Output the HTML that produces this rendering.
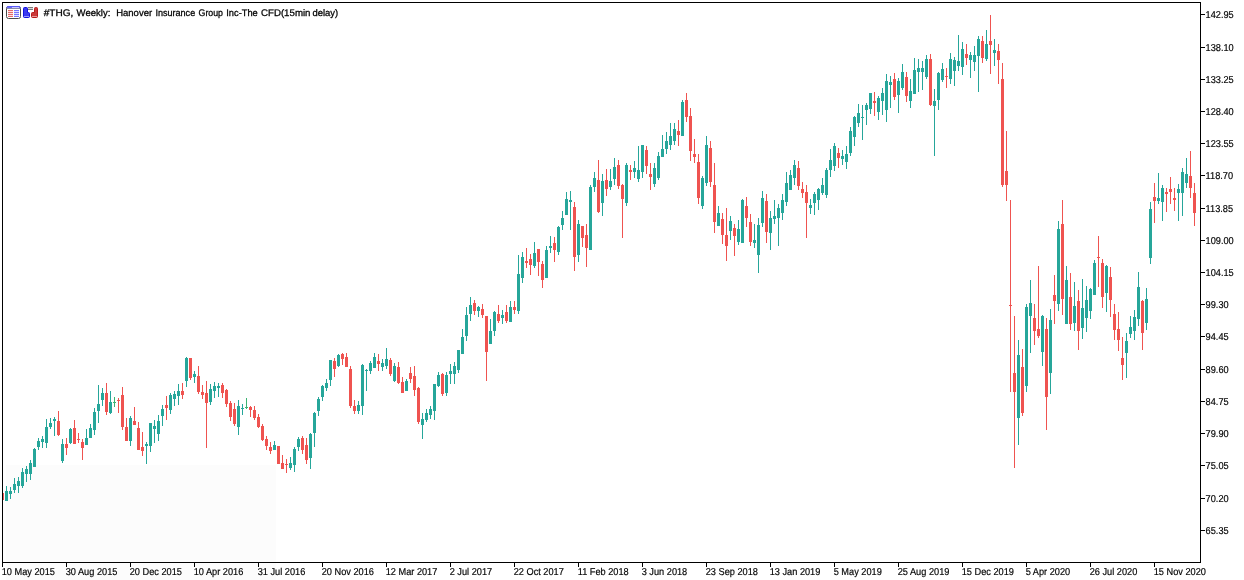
<!DOCTYPE html><html><head><meta charset="utf-8"><style>html,body{margin:0;padding:0;background:#fff;overflow:hidden}svg{display:block}text{font-family:"Liberation Sans",sans-serif;fill:#000;text-rendering:geometricPrecision}</style></head><body>
<svg width="1244" height="580" viewBox="0 0 1244 580">
<rect x="0" y="0" width="1244" height="580" fill="#fff"/>
<rect x="6" y="465" width="270" height="115" fill="#fcfcfc"/>
<path fill="#26a69a" shape-rendering="crispEdges" d="M6 486h1v15h-1zM5 491h3v10h-3zM10 487h1v12h-1zM9 491h3v3h-3zM14 478h1v15h-1zM13 484h3v6h-3zM18 477h1v16h-1zM17 481h3v5h-3zM22 468h1v20h-1zM21 472h3v14h-3zM26 466h1v16h-1zM25 469h3v5h-3zM30 460h1v20h-1zM29 463h3v11h-3zM34 448h1v19h-1zM33 449h3v18h-3zM38 438h1v12h-1zM37 441h3v6h-3zM42 436h1v12h-1zM41 439h3v3h-3zM46 419h1v29h-1zM45 427h3v16h-3zM50 418h1v11h-1zM49 423h3v4h-3zM54 417h1v19h-1zM53 419h3v2h-3zM62 439h1v24h-1zM61 444h3v17h-3zM70 428h1v16h-1zM69 429h3v14h-3zM86 429h1v16h-1zM85 438h3v7h-3zM90 424h1v14h-1zM89 428h3v10h-3zM94 408h1v27h-1zM93 412h3v18h-3zM98 385h1v38h-1zM97 404h3v7h-3zM102 388h1v18h-1zM101 393h3v7h-3zM110 391h1v23h-1zM109 402h3v11h-3zM130 416h1v30h-1zM129 418h3v23h-3zM146 442h1v22h-1zM145 444h3v2h-3zM150 423h1v29h-1zM149 423h3v23h-3zM154 420h1v23h-1zM153 426h3v3h-3zM158 415h1v26h-1zM157 421h3v13h-3zM162 405h1v21h-1zM161 409h3v7h-3zM170 393h1v21h-1zM169 395h3v15h-3zM174 391h1v15h-1zM173 394h3v5h-3zM178 384h1v21h-1zM177 391h3v5h-3zM186 357h1v30h-1zM185 358h3v23h-3zM194 371h1v12h-1zM193 374h3v3h-3zM210 384h1v21h-1zM209 389h3v13h-3zM214 382h1v16h-1zM213 386h3v5h-3zM218 383h1v14h-1zM217 386h3v2h-3zM238 400h1v35h-1zM237 406h3v21h-3zM242 404h1v11h-1zM241 408h3v1h-3zM274 441h1v9h-1zM273 445h3v5h-3zM290 457h1v13h-1zM289 463h3v5h-3zM294 447h1v25h-1zM293 449h3v16h-3zM298 437h1v14h-1zM297 439h3v8h-3zM310 433h1v36h-1zM309 434h3v24h-3zM314 412h1v35h-1zM313 413h3v20h-3zM318 397h1v19h-1zM317 399h3v12h-3zM322 385h1v16h-1zM321 386h3v11h-3zM326 379h1v12h-1zM325 383h3v5h-3zM330 360h1v26h-1zM329 360h3v20h-3zM338 354h1v13h-1zM337 355h3v11h-3zM358 401h1v13h-1zM357 405h3v6h-3zM362 364h1v51h-1zM361 365h3v41h-3zM366 369h1v22h-1zM365 370h3v1h-3zM370 361h1v13h-1zM369 363h3v8h-3zM374 353h1v15h-1zM373 357h3v11h-3zM382 359h1v12h-1zM381 363h3v4h-3zM386 348h1v21h-1zM385 359h3v7h-3zM394 363h1v19h-1zM393 366h3v15h-3zM406 379h1v12h-1zM405 381h3v10h-3zM422 413h1v26h-1zM421 419h3v6h-3zM426 409h1v13h-1zM425 413h3v7h-3zM430 406h1v13h-1zM429 409h3v6h-3zM434 384h1v36h-1zM433 384h3v27h-3zM438 372h1v15h-1zM437 375h3v11h-3zM446 372h1v24h-1zM445 375h3v18h-3zM450 364h1v20h-1zM449 371h3v3h-3zM454 362h1v22h-1zM453 366h3v8h-3zM458 350h1v23h-1zM457 350h3v20h-3zM462 329h1v25h-1zM461 337h3v17h-3zM466 307h1v34h-1zM465 315h3v21h-3zM470 297h1v24h-1zM469 305h3v9h-3zM478 306h1v11h-1zM477 307h3v4h-3zM490 319h1v25h-1zM489 331h3v13h-3zM494 311h1v25h-1zM493 312h3v19h-3zM502 310h1v14h-1zM501 315h3v3h-3zM510 301h1v21h-1zM509 307h3v15h-3zM518 255h1v59h-1zM517 274h3v37h-3zM522 252h1v31h-1zM521 257h3v21h-3zM534 242h1v26h-1zM533 253h3v13h-3zM546 246h1v32h-1zM545 250h3v28h-3zM550 236h1v17h-1zM549 246h3v2h-3zM558 226h1v29h-1zM557 227h3v25h-3zM562 211h1v19h-1zM561 218h3v7h-3zM566 192h1v23h-1zM565 199h3v16h-3zM570 191h1v39h-1zM569 200h3v2h-3zM578 220h1v42h-1zM577 224h3v31h-3zM590 185h1v65h-1zM589 187h3v63h-3zM594 172h1v20h-1zM593 178h3v9h-3zM602 174h1v42h-1zM601 181h3v22h-3zM610 169h1v21h-1zM609 181h3v6h-3zM614 158h1v27h-1zM613 167h3v12h-3zM626 163h1v43h-1zM625 165h3v38h-3zM634 161h1v17h-1zM633 168h3v4h-3zM638 146h1v36h-1zM637 170h3v9h-3zM642 145h1v33h-1zM641 145h3v27h-3zM654 163h1v24h-1zM653 168h3v16h-3zM658 152h1v28h-1zM657 156h3v22h-3zM662 135h1v22h-1zM661 149h3v8h-3zM666 132h1v22h-1zM665 141h3v8h-3zM670 123h1v27h-1zM669 136h3v9h-3zM674 123h1v22h-1zM673 129h3v12h-3zM682 100h1v36h-1zM681 102h3v34h-3zM702 176h1v33h-1zM701 178h3v28h-3zM706 136h1v50h-1zM705 145h3v38h-3zM718 206h1v20h-1zM717 213h3v13h-3zM730 216h1v24h-1zM729 221h3v10h-3zM738 220h1v25h-1zM737 229h3v13h-3zM742 199h1v44h-1zM741 200h3v43h-3zM754 224h1v24h-1zM753 240h3v3h-3zM758 218h1v55h-1zM757 225h3v30h-3zM762 191h1v36h-1zM761 198h3v25h-3zM770 211h1v39h-1zM769 218h3v15h-3zM774 200h1v24h-1zM773 216h3v3h-3zM778 204h1v42h-1zM777 208h3v10h-3zM782 194h1v26h-1zM781 200h3v13h-3zM786 172h1v34h-1zM785 183h3v19h-3zM790 170h1v20h-1zM789 175h3v15h-3zM794 160h1v25h-1zM793 165h3v13h-3zM810 199h1v15h-1zM809 205h3v3h-3zM814 192h1v23h-1zM813 194h3v9h-3zM818 188h1v22h-1zM817 189h3v11h-3zM822 178h1v17h-1zM821 185h3v8h-3zM826 168h1v30h-1zM825 170h3v25h-3zM830 149h1v28h-1zM829 160h3v10h-3zM834 143h1v28h-1zM833 146h3v20h-3zM842 150h1v15h-1zM841 156h3v3h-3zM846 146h1v23h-1zM845 154h3v8h-3zM850 127h1v29h-1zM849 131h3v22h-3zM854 116h1v30h-1zM853 117h3v20h-3zM858 104h1v23h-1zM857 113h3v10h-3zM862 105h1v35h-1zM861 117h3v1h-3zM866 103h1v22h-1zM865 105h3v5h-3zM870 93h1v21h-1zM869 93h3v16h-3zM878 96h1v24h-1zM877 98h3v14h-3zM882 88h1v27h-1zM881 93h3v8h-3zM886 74h1v48h-1zM885 81h3v29h-3zM890 76h1v32h-1zM889 82h3v3h-3zM898 78h1v35h-1zM897 81h3v14h-3zM902 64h1v26h-1zM901 72h3v16h-3zM910 79h1v29h-1zM909 91h3v10h-3zM914 58h1v36h-1zM913 70h3v24h-3zM918 59h1v33h-1zM917 68h3v4h-3zM922 61h1v29h-1zM921 68h3v4h-3zM926 55h1v24h-1zM925 59h3v18h-3zM934 89h1v67h-1zM933 101h3v5h-3zM938 72h1v38h-1zM937 73h3v27h-3zM942 63h1v19h-1zM941 69h3v11h-3zM950 53h1v31h-1zM949 59h3v20h-3zM954 57h1v29h-1zM953 60h3v11h-3zM958 35h1v36h-1zM957 61h3v5h-3zM962 42h1v33h-1zM961 49h3v18h-3zM970 52h1v26h-1zM969 55h3v5h-3zM974 46h1v25h-1zM973 55h3v7h-3zM978 36h1v56h-1zM977 39h3v17h-3zM986 30h1v31h-1zM985 44h3v15h-3zM994 39h1v27h-1zM993 50h3v3h-3zM1018 340h1v105h-1zM1017 355h3v63h-3zM1026 304h1v88h-1zM1025 307h3v79h-3zM1030 280h1v73h-1zM1029 303h3v13h-3zM1042 315h1v51h-1zM1041 316h3v36h-3zM1050 309h1v85h-1zM1049 320h3v53h-3zM1058 221h1v90h-1zM1057 229h3v75h-3zM1066 266h1v58h-1zM1065 280h3v44h-3zM1074 282h1v49h-1zM1073 306h3v17h-3zM1082 279h1v60h-1zM1081 308h3v20h-3zM1086 286h1v46h-1zM1085 300h3v18h-3zM1090 288h1v31h-1zM1089 289h3v22h-3zM1094 260h1v35h-1zM1093 263h3v32h-3zM1106 265h1v47h-1zM1105 266h3v27h-3zM1126 333h1v45h-1zM1125 341h3v12h-3zM1130 316h1v22h-1zM1129 327h3v7h-3zM1134 310h1v30h-1zM1133 317h3v14h-3zM1138 272h1v54h-1zM1137 287h3v32h-3zM1146 288h1v42h-1zM1145 299h3v24h-3zM1150 202h1v62h-1zM1149 209h3v49h-3zM1158 173h1v31h-1zM1157 198h3v3h-3zM1162 185h1v36h-1zM1161 188h3v14h-3zM1178 184h1v37h-1zM1177 189h3v4h-3zM1182 168h1v48h-1zM1181 172h3v21h-3zM1186 158h1v30h-1zM1185 174h3v9h-3z"/>
<path fill="#ef5350" shape-rendering="crispEdges" d="M3 493h1v7h-1zM58 411h1v25h-1zM57 421h3v14h-3zM66 438h1v17h-1zM65 444h3v4h-3zM74 420h1v24h-1zM73 428h3v16h-3zM78 433h1v10h-1zM77 439h3v1h-3zM82 439h1v21h-1zM81 442h3v6h-3zM106 383h1v32h-1zM105 393h3v19h-3zM118 398h1v15h-1zM117 400h3v1h-3zM122 387h1v43h-1zM121 395h3v32h-3zM126 418h1v23h-1zM125 427h3v14h-3zM134 407h1v18h-1zM133 421h3v4h-3zM138 422h1v28h-1zM137 428h3v22h-3zM142 432h1v24h-1zM141 447h3v4h-3zM166 396h1v24h-1zM165 405h3v3h-3zM182 383h1v16h-1zM181 391h3v4h-3zM190 358h1v22h-1zM189 358h3v20h-3zM198 366h1v28h-1zM197 376h3v16h-3zM202 385h1v14h-1zM201 392h3v3h-3zM206 381h1v67h-1zM205 393h3v10h-3zM222 383h1v15h-1zM221 385h3v8h-3zM226 389h1v18h-1zM225 390h3v14h-3zM230 401h1v20h-1zM229 403h3v14h-3zM234 403h1v23h-1zM233 409h3v15h-3zM250 406h1v11h-1zM249 407h3v3h-3zM254 406h1v14h-1zM253 410h3v8h-3zM258 414h1v14h-1zM257 417h3v10h-3zM262 424h1v17h-1zM261 426h3v14h-3zM266 436h1v14h-1zM265 439h3v7h-3zM270 442h1v12h-1zM269 447h3v4h-3zM278 446h1v18h-1zM277 446h3v18h-3zM282 455h1v14h-1zM281 463h3v6h-3zM286 459h1v14h-1zM285 464h3v1h-3zM302 436h1v18h-1zM301 438h3v12h-3zM306 438h1v26h-1zM305 445h3v15h-3zM334 358h1v19h-1zM333 361h3v8h-3zM342 353h1v12h-1zM341 354h3v5h-3zM346 353h1v14h-1zM345 357h3v10h-3zM350 366h1v42h-1zM349 369h3v37h-3zM354 400h1v14h-1zM353 406h3v5h-3zM378 354h1v17h-1zM377 361h3v3h-3zM390 358h1v18h-1zM389 360h3v14h-3zM398 362h1v22h-1zM397 367h3v16h-3zM402 377h1v16h-1zM401 382h3v11h-3zM410 367h1v16h-1zM409 373h3v6h-3zM414 366h1v30h-1zM413 376h3v14h-3zM418 387h1v37h-1zM417 388h3v34h-3zM442 373h1v23h-1zM441 374h3v20h-3zM474 300h1v15h-1zM473 303h3v8h-3zM482 304h1v14h-1zM481 309h3v6h-3zM486 316h1v65h-1zM485 316h3v36h-3zM498 305h1v18h-1zM497 314h3v7h-3zM506 305h1v18h-1zM505 312h3v9h-3zM514 301h1v13h-1zM513 307h3v3h-3zM526 248h1v20h-1zM525 261h3v2h-3zM530 254h1v21h-1zM529 259h3v6h-3zM538 249h1v27h-1zM537 249h3v13h-3zM542 261h1v27h-1zM541 264h3v16h-3zM554 237h1v25h-1zM553 243h3v7h-3zM574 202h1v69h-1zM573 207h3v50h-3zM582 226h1v21h-1zM581 226h3v12h-3zM586 224h1v43h-1zM585 235h3v13h-3zM598 160h1v53h-1zM597 180h3v32h-3zM606 169h1v27h-1zM605 180h3v9h-3zM618 160h1v29h-1zM617 165h3v21h-3zM622 184h1v54h-1zM621 185h3v14h-3zM630 165h1v15h-1zM629 170h3v2h-3zM646 146h1v28h-1zM645 150h3v16h-3zM650 163h1v27h-1zM649 174h3v3h-3zM678 120h1v26h-1zM677 131h3v4h-3zM686 93h1v29h-1zM685 100h3v17h-3zM690 108h1v53h-1zM689 116h3v35h-3zM694 139h1v24h-1zM693 154h3v3h-3zM698 154h1v50h-1zM697 162h3v36h-3zM710 141h1v46h-1zM709 148h3v34h-3zM714 163h1v70h-1zM713 185h3v37h-3zM722 213h1v31h-1zM721 219h3v16h-3zM726 208h1v53h-1zM725 235h3v11h-3zM734 224h1v32h-1zM733 228h3v8h-3zM746 197h1v30h-1zM745 206h3v12h-3zM750 214h1v32h-1zM749 222h3v20h-3zM766 194h1v49h-1zM765 201h3v31h-3zM798 161h1v29h-1zM797 168h3v18h-3zM802 182h1v16h-1zM801 189h3v4h-3zM806 185h1v53h-1zM805 192h3v11h-3zM838 148h1v20h-1zM837 153h3v5h-3zM874 92h1v24h-1zM873 101h3v2h-3zM894 73h1v27h-1zM893 79h3v18h-3zM906 72h1v30h-1zM905 77h3v19h-3zM930 54h1v52h-1zM929 59h3v46h-3zM946 68h1v20h-1zM945 76h3v1h-3zM966 44h1v21h-1zM965 54h3v4h-3zM982 36h1v27h-1zM981 41h3v17h-3zM990 15h1v59h-1zM989 41h3v4h-3zM998 44h1v40h-1zM997 51h3v9h-3zM1002 63h1v124h-1zM1001 79h3v106h-3zM1006 131h1v70h-1zM1005 171h3v14h-3zM1010 200h1v192h-1zM1009 305h3v1h-3zM1014 316h1v152h-1zM1013 373h3v19h-3zM1022 349h1v67h-1zM1021 367h3v46h-3zM1034 304h1v41h-1zM1033 318h3v13h-3zM1038 266h1v72h-1zM1037 329h3v7h-3zM1046 318h1v112h-1zM1045 329h3v68h-3zM1054 275h1v49h-1zM1053 295h3v6h-3zM1062 200h1v115h-1zM1061 224h3v75h-3zM1070 273h1v57h-1zM1069 297h3v27h-3zM1078 290h1v60h-1zM1077 301h3v30h-3zM1098 236h1v51h-1zM1097 257h3v1h-3zM1102 259h1v49h-1zM1101 263h3v34h-3zM1110 267h1v50h-1zM1109 277h3v23h-3zM1114 304h1v36h-1zM1113 314h3v16h-3zM1118 312h1v39h-1zM1117 329h3v11h-3zM1122 337h1v43h-1zM1121 358h3v7h-3zM1142 300h1v50h-1zM1141 301h3v32h-3zM1154 183h1v40h-1zM1153 197h3v4h-3zM1166 188h1v24h-1zM1165 192h3v2h-3zM1170 177h1v27h-1zM1169 189h3v3h-3zM1174 188h1v23h-1zM1173 198h3v2h-3zM1190 151h1v47h-1zM1189 176h3v12h-3zM1194 183h1v43h-1zM1193 193h3v20h-3z"/>
<path fill="#3cb371" shape-rendering="crispEdges" d="M114 397h1v10h-1zM113 402h3v1h-3zM246 398h1v11h-1zM245 407h3v1h-3z"/>
<g fill="#000" shape-rendering="crispEdges">
<rect x="2" y="2" width="1199" height="1"/>
<rect x="2" y="2" width="1" height="561"/>
<rect x="1200" y="2" width="1" height="561"/>
<rect x="2" y="562" width="1199" height="1"/>
<rect x="1201" y="14" width="4" height="1"/>
<rect x="1201" y="47" width="4" height="1"/>
<rect x="1201" y="79" width="4" height="1"/>
<rect x="1201" y="111" width="4" height="1"/>
<rect x="1201" y="143" width="4" height="1"/>
<rect x="1201" y="175" width="4" height="1"/>
<rect x="1201" y="208" width="4" height="1"/>
<rect x="1201" y="240" width="4" height="1"/>
<rect x="1201" y="272" width="4" height="1"/>
<rect x="1201" y="304" width="4" height="1"/>
<rect x="1201" y="336" width="4" height="1"/>
<rect x="1201" y="369" width="4" height="1"/>
<rect x="1201" y="401" width="4" height="1"/>
<rect x="1201" y="433" width="4" height="1"/>
<rect x="1201" y="465" width="4" height="1"/>
<rect x="1201" y="498" width="4" height="1"/>
<rect x="1201" y="530" width="4" height="1"/>
<rect x="2" y="563" width="1" height="4"/>
<rect x="66" y="563" width="1" height="4"/>
<rect x="130" y="563" width="1" height="4"/>
<rect x="194" y="563" width="1" height="4"/>
<rect x="258" y="563" width="1" height="4"/>
<rect x="322" y="563" width="1" height="4"/>
<rect x="386" y="563" width="1" height="4"/>
<rect x="450" y="563" width="1" height="4"/>
<rect x="514" y="563" width="1" height="4"/>
<rect x="578" y="563" width="1" height="4"/>
<rect x="642" y="563" width="1" height="4"/>
<rect x="706" y="563" width="1" height="4"/>
<rect x="770" y="563" width="1" height="4"/>
<rect x="834" y="563" width="1" height="4"/>
<rect x="898" y="563" width="1" height="4"/>
<rect x="962" y="563" width="1" height="4"/>
<rect x="1026" y="563" width="1" height="4"/>
<rect x="1090" y="563" width="1" height="4"/>
<rect x="1154" y="563" width="1" height="4"/>
</g>
<g opacity="0.99" stroke="#000" stroke-width="0.2"><g font-size="10px">
<text transform="translate(1205.6 18) scale(0.92 1)">142.95</text>
<text transform="translate(1205.6 51) scale(0.92 1)">138.10</text>
<text transform="translate(1205.6 83) scale(0.92 1)">133.25</text>
<text transform="translate(1205.6 115) scale(0.92 1)">128.40</text>
<text transform="translate(1205.6 147) scale(0.92 1)">123.55</text>
<text transform="translate(1205.6 179) scale(0.92 1)">118.70</text>
<text transform="translate(1205.6 212) scale(0.92 1)">113.85</text>
<text transform="translate(1205.6 244) scale(0.92 1)">109.00</text>
<text transform="translate(1205.6 276) scale(0.92 1)">104.15</text>
<text transform="translate(1205.6 308) scale(0.92 1)">99.30</text>
<text transform="translate(1205.6 340) scale(0.92 1)">94.45</text>
<text transform="translate(1205.6 373) scale(0.92 1)">89.60</text>
<text transform="translate(1205.6 405) scale(0.92 1)">84.75</text>
<text transform="translate(1205.6 437) scale(0.92 1)">79.90</text>
<text transform="translate(1205.6 469) scale(0.92 1)">75.05</text>
<text transform="translate(1205.6 502) scale(0.92 1)">70.20</text>
<text transform="translate(1205.6 534) scale(0.92 1)">65.35</text>
<text transform="translate(1.7 575) scale(0.92 1)">10 May 2015</text>
<text transform="translate(65.7 575) scale(0.92 1)">30 Aug 2015</text>
<text transform="translate(129.7 575) scale(0.92 1)">20 Dec 2015</text>
<text transform="translate(193.7 575) scale(0.92 1)">10 Apr 2016</text>
<text transform="translate(257.7 575) scale(0.92 1)">31 Jul 2016</text>
<text transform="translate(321.7 575) scale(0.92 1)">20 Nov 2016</text>
<text transform="translate(385.7 575) scale(0.92 1)">12 Mar 2017</text>
<text transform="translate(449.7 575) scale(0.92 1)">2 Jul 2017</text>
<text transform="translate(513.7 575) scale(0.92 1)">22 Oct 2017</text>
<text transform="translate(577.7 575) scale(0.92 1)">11 Feb 2018</text>
<text transform="translate(641.7 575) scale(0.92 1)">3 Jun 2018</text>
<text transform="translate(705.7 575) scale(0.92 1)">23 Sep 2018</text>
<text transform="translate(769.7 575) scale(0.92 1)">13 Jan 2019</text>
<text transform="translate(833.7 575) scale(0.92 1)">5 May 2019</text>
<text transform="translate(897.7 575) scale(0.92 1)">25 Aug 2019</text>
<text transform="translate(961.7 575) scale(0.92 1)">15 Dec 2019</text>
<text transform="translate(1025.7 575) scale(0.92 1)">5 Apr 2020</text>
<text transform="translate(1089.7 575) scale(0.92 1)">26 Jul 2020</text>
<text transform="translate(1153.7 575) scale(0.92 1)">15 Nov 2020</text>
</g>
<text x="43.8" y="16" font-size="9.6px" stroke-width="0.3" textLength="29.5" lengthAdjust="spacingAndGlyphs">#THG,</text>
<text x="76.6" y="16" font-size="9.6px" stroke-width="0.3" textLength="33.7" lengthAdjust="spacingAndGlyphs">Weekly:</text>
<text x="116.2" y="16" font-size="9.6px" stroke-width="0.3" textLength="35.9" lengthAdjust="spacingAndGlyphs">Hanover</text>
<text x="155.4" y="16" font-size="9.6px" stroke-width="0.3" textLength="39.8" lengthAdjust="spacingAndGlyphs">Insurance</text>
<text x="198.6" y="16" font-size="9.6px" stroke-width="0.3" textLength="24.4" lengthAdjust="spacingAndGlyphs">Group</text>
<text x="226.3" y="16" font-size="9.6px" stroke-width="0.3" textLength="31.4" lengthAdjust="spacingAndGlyphs">Inc-The</text>
<text x="261.0" y="16" font-size="9.6px" stroke-width="0.3" textLength="49.5" lengthAdjust="spacingAndGlyphs">CFD(15min</text>
<text x="312.4" y="16" font-size="9.6px" stroke-width="0.3" textLength="25.7" lengthAdjust="spacingAndGlyphs">delay)</text>
</g>
<g>
<rect x="6.5" y="6.5" width="14" height="12" rx="2" fill="#fff" stroke="#4a4a4a"/>
<path d="M8.5 6h10a2 2 0 0 1 2 2v0h-14v0a2 2 0 0 1 2-2z" fill="#5858f8"/>
<rect x="7" y="7" width="13" height="1" fill="#6a6af8"/><rect x="12" y="7" width="7" height="1" fill="#c8c8ff"/><rect x="7" y="8" width="13" height="1" fill="#8a8aa8"/>
<g shape-rendering="crispEdges">
<rect x="8" y="10" width="5" height="1" fill="#e46a6a"/><rect x="8" y="12" width="5" height="1" fill="#e46a6a"/><rect x="8" y="14" width="5" height="1" fill="#e46a6a"/><rect x="8" y="16" width="5" height="1" fill="#e46a6a"/>
<rect x="8" y="11" width="5" height="1" fill="#fbe0e0"/><rect x="8" y="13" width="5" height="1" fill="#fbe0e0"/><rect x="8" y="15" width="5" height="1" fill="#fbe0e0"/>
<rect x="14" y="10" width="5" height="1" fill="#7474ff"/><rect x="14" y="12" width="5" height="1" fill="#7474ff"/><rect x="14" y="14" width="5" height="1" fill="#7474ff"/><rect x="14" y="16" width="5" height="1" fill="#7474ff"/>
<rect x="14" y="11" width="5" height="1" fill="#e0e0ff"/><rect x="14" y="13" width="5" height="1" fill="#e0e0ff"/><rect x="14" y="15" width="5" height="1" fill="#e0e0ff"/>
<rect x="28" y="7" width="5" height="1" fill="#7a7a7a"/><rect x="28" y="9" width="5" height="1" fill="#7a7a7a"/>
<rect x="28" y="8" width="5" height="1" fill="#d8d8d8"/>
</g>
<path d="M24.5 7.5h2a1 1 0 0 1 1 1v4h1a1 1 0 0 1 1 1v3a1 1 0 0 1-1 1h-4a1 1 0 0 1-1-1v-8a1 1 0 0 1 1-1z" fill="#3a3af0" stroke="#1010e0"/>
<path d="M35.5 7.5h1a1 1 0 0 1 1 1v8a1 1 0 0 1-1 1h-4a1 1 0 0 1-1-1v-3a1 1 0 0 1 1-1h2v-4a1 1 0 0 1 1-1z" fill="#cc3a3a" stroke="#b81c1c"/>
<rect x="24" y="16" width="5" height="1" fill="#9a9aff"/>
<rect x="32" y="16" width="5" height="1" fill="#e89a9a"/>
</g>
</svg></body></html>
